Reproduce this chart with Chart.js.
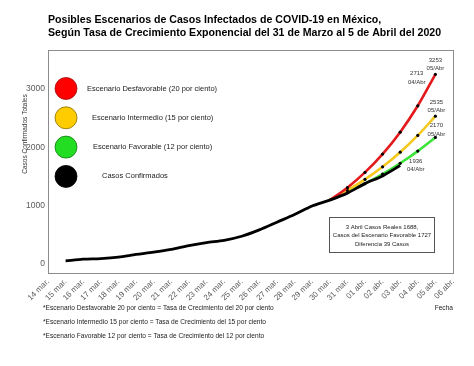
<!DOCTYPE html>
<html>
<head>
<meta charset="utf-8">
<script src="https://cdn.jsdelivr.net/npm/chart.js@4/dist/chart.umd.min.js"></script>
<style>
  html, body { margin: 0; padding: 0; background: #fff; }
  #wrap { width: 474px; height: 366px; position: relative; }
</style>
</head>
<body>
<div id="wrap"><canvas id="chart" width="474" height="366"></canvas></div>
<script>
  var fechas = ["14 mar.", "15 mar.", "16 mar.", "17 mar.", "18 mar.", "19 mar.", "20 mar.", "21 mar.",
    "22 mar.", "23 mar.", "24 mar.", "25 mar.", "26 mar.", "27 mar.", "28 mar.", "29 mar.", "30 mar.",
    "31 mar.", "01 abr.", "02 abr.", "03 abr.", "04 abr.", "05 abr.", "06 abr."];

  var confirmados = [null, 53, 82, 93, 118, 164, 203, 251, 316, 367, 405, 475, 585, 717, 848, 993, 1094,
    1215, 1378, 1510, 1688, null, null, null];

  var desfavorable = [null, null, null, null, null, null, null, null, null, null, null, null, null, null,
    null, null, 1094, 1309, 1570, 1884, 2261, 2713, 3253, null];
  var intermedio = [null, null, null, null, null, null, null, null, null, null, null, null, null, null,
    null, null, 1094, 1261, 1450, 1667, 1917, 2205, 2535, null];
  var favorable = [null, null, null, null, null, null, null, null, null, null, null, null, null, null,
    null, null, 1094, 1230, 1377, 1542, 1727, 1936, 2170, null];

  var yTicks = [0, 1000, 2000, 3000];

  var notas = [
    "*Escenario Desfavorable 20 por ciento = Tasa de Crecimiento del 20 por ciento",
    "*Escenario Intermedio 15 por ciento = Tasa de Crecimiento del 15 por ciento",
    "*Escenario Favorable 12 por ciento = Tasa de Crecimiento del 12 por ciento"
  ];
  var cuadro = ["3 Abril Casos Reales 1688,", "Casos del Escenario Favorable 1727", "Diferencia 39 Casos"];

  var COL = { red: "#e3191b", yellow: "#f4c81c", green: "#3ce43a", black: "#000000" };
  var FONT = "'Liberation Sans', Arial, sans-serif";

  // legend entries: fill, outline, label, text x
  var leyenda = [
    { fill: "#ff0000", stroke: "#9a1010", text: "Escenario Desfavorable (20 por ciento)", tx: 87 },
    { fill: "#ffcc00", stroke: "#8a7000", text: "Escenario Intermedio (15 por ciento)", tx: 92 },
    { fill: "#22dd22", stroke: "#137a13", text: "Escenario Favorable (12 por ciento)", tx: 93 },
    { fill: "#000000", stroke: "#000000", text: "Casos Confirmados", tx: 102 }
  ];

  // point labels: dataset index, category index, text lines, offset
  var etiquetas = [
    { ds: 1, i: 22, lines: ["3253", "05/Abr"], dx: 0, dy: -14 },
    { ds: 1, i: 21, lines: ["2713", "04/Abr"], dx: -1, dy: -32 },
    { ds: 2, i: 22, lines: ["2535", "05/Abr"], dx: 1, dy: -14 },
    { ds: 3, i: 22, lines: ["2170", "05/Abr"], dx: 1, dy: -12 },
    { ds: 3, i: 21, lines: ["1936", "04/Abr"], dx: -2, dy: 10 }
  ];

  function scenario(label, data, color) {
    return {
      label: label, data: data, borderColor: color, backgroundColor: "#000",
      borderWidth: 2.6, tension: 0.3, pointRadius: 1.6, pointBorderWidth: 0,
      pointBackgroundColor: function (ctx) { return ctx.dataIndex === 16 ? "rgba(0,0,0,0)" : "#000"; },
      spanGaps: false
    };
  }

  var decoraciones = {
    id: "decoraciones",
    afterDraw: function (chart) {
      var ctx = chart.ctx, a = chart.chartArea;
      ctx.save();

      // plot frame
      ctx.strokeStyle = "#8c8c8c";
      ctx.lineWidth = 1;
      ctx.strokeRect(Math.round(a.left) + 0.5, Math.round(a.top) + 0.5, Math.round(a.right - a.left), Math.round(a.bottom - a.top));

      // title
      ctx.fillStyle = "#000";
      ctx.font = "bold 10.6px " + FONT;
      ctx.textAlign = "left";
      ctx.textBaseline = "middle";
      ctx.fillText("Posibles Escenarios de Casos Infectados de COVID-19 en México,", 48, 20);
      ctx.fillText("Según Tasa de Crecimiento Exponencial del 31 de Marzo al 5 de Abril del 2020", 48, 33);

      // y title
      ctx.save();
      ctx.translate(25, 134);
      ctx.rotate(-Math.PI / 2);
      ctx.textAlign = "center";
      ctx.font = "6.5px " + FONT;
      ctx.fillStyle = "#333";
      ctx.fillText("Casos Confirmados Totales", 0, 0);
      ctx.restore();

      // legend
      leyenda.forEach(function (l, k) {
        var cy = 88.5 + k * 29.3;
        ctx.beginPath();
        ctx.arc(66, cy, 11, 0, Math.PI * 2);
        ctx.fillStyle = l.fill;
        ctx.fill();
        ctx.lineWidth = 0.8;
        ctx.strokeStyle = l.stroke;
        ctx.stroke();
        ctx.fillStyle = "#222";
        ctx.font = "7.5px " + FONT;
        ctx.textAlign = "left";
        ctx.fillText(l.text, l.tx, cy);
      });

      // point labels
      ctx.font = "6px " + FONT;
      ctx.fillStyle = "#333";
      ctx.textAlign = "center";
      etiquetas.forEach(function (e) {
        var p = chart.getDatasetMeta(e.ds).data[e.i];
        e.lines.forEach(function (t, j) {
          ctx.fillText(t, p.x + e.dx, p.y + e.dy + j * 8.5);
        });
      });

      // info box
      ctx.fillStyle = "#fff";
      ctx.fillRect(329.5, 217.5, 105, 35);
      ctx.strokeStyle = "#555";
      ctx.lineWidth = 1;
      ctx.strokeRect(329.5, 217.5, 105, 35);
      ctx.fillStyle = "#222";
      ctx.font = "6px " + FONT;
      cuadro.forEach(function (t, j) {
        ctx.fillText(t, 382, 227 + j * 8.6);
      });

      // footnotes
      ctx.textAlign = "left";
      ctx.font = "6.6px " + FONT;
      notas.forEach(function (t, j) {
        ctx.fillText(t, 43, 308.5 + j * 13.7);
      });
      ctx.textAlign = "right";
      ctx.fillText("Fecha", 453, 308.5);

      ctx.restore();
    }
  };

  new Chart(document.getElementById("chart"), {
    type: "line",
    data: {
      labels: fechas,
      datasets: [
        { label: "Casos Confirmados", data: confirmados, borderColor: COL.black, borderWidth: 2.8,
          tension: 0.3, pointRadius: 0 },
        scenario("Escenario Desfavorable", desfavorable, COL.red),
        scenario("Escenario Intermedio", intermedio, COL.yellow),
        scenario("Escenario Favorable", favorable, COL.green)
      ]
    },
    options: {
      responsive: false,
      animation: false,
      events: [],
      layout: { padding: { top: 50, right: 21, left: 0, bottom: 0 } },
      plugins: { legend: { display: false }, title: { display: false }, tooltip: { enabled: false } },
      scales: {
        x: {
          type: "category",
          offset: false,
          grid: { display: false, drawTicks: false },
          border: { display: false },
          ticks: {
            autoSkip: false, minRotation: 45, maxRotation: 45, padding: 4,
            color: "#595959", font: { family: FONT, size: 8 }
          },
          afterFit: function (s) { s.height = 93; }
        },
        y: {
          min: -155, max: 3670,
          grid: { display: false, drawTicks: false },
          border: { display: false },
          afterBuildTicks: function (s) { s.ticks = yTicks.map(function (v) { return { value: v }; }); },
          ticks: {
            padding: 3, color: "#595959", font: { family: FONT, size: 8.5 },
            callback: function (v) { return String(v); }
          },
          afterFit: function (s) { s.width = 48; }
        }
      }
    },
    plugins: [decoraciones]
  });
</script>
</body>
</html>
